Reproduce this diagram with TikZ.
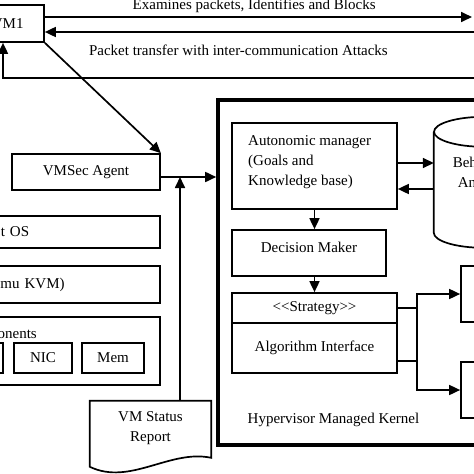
\documentclass[tikz,border=0pt]{standalone}
\usepackage{fontspec}
\setmainfont{Liberation Serif}
\usetikzlibrary{arrows.meta}

\begin{document}
\begin{tikzpicture}[
    x = 1pt, y = -1pt,
    every node/.style = {font = \fontsize{15}{20}\selectfont},
    box/.style = {draw, line width = 1.7pt, inner sep = 0pt},
    hyperbox/.style = {draw, line width = 3.6pt, inner sep = 0pt},
    conn/.style = {line width = 1.7pt},
    arr/.style = {line width = 1.7pt, -{Triangle[length = 11pt, width = 10pt]}},
    ]
    \useasboundingbox (0,0) rectangle (474,474);

    \node[box, minimum width = 72.6pt, minimum height = 37pt] (vmone) at (7.7,23.5) {VM1};
    \node[box, minimum width = 148pt, minimum height = 36pt] (agent) at (86,172) {VMSec Agent};
    \node[box, text width = 186pt, align = left, inner xsep = 4pt, minimum height = 32pt] (guest) at (63,232) {Guest OS};
    \node[box, text width = 178pt, align = left, inner xsep = 4pt, minimum height = 37pt] (qemu) at (67,284.5) {(Qemu KVM)};
    \node[box, minimum width = 275pt, minimum height = 68pt] (hw) at (22.5,351) {};
    \node[anchor = base east, inner sep = 0pt] (hwtext) at (37,338) {Hardware Components};
    \node[box, minimum width = 58pt, minimum height = 30pt] (cpu) at (-26,358) {};
    \node[box, minimum width = 58pt, minimum height = 30pt] (nic) at (43,358) {NIC};
    \node[box, minimum width = 62pt, minimum height = 30pt] (mem) at (113,358) {Mem};
    \node[minimum width = 121pt, minimum height = 55.2pt, align = center, inner sep = 0pt] (report) at (150.5,428.6) {VM Status\\Report};
    \draw[conn] (report.north west) -- (report.north east) -- ([yshift = -57pt]report.north east)
        .. controls (170,449) and (130,486) .. ([yshift = -66pt]report.north west) -- cycle;

    \node[hyperbox, minimum width = 272pt, minimum height = 345pt] (hyp) at (354,272.5) {};
    \node[anchor = base, inner sep = 0pt] (hyptext) at (333.5,423) {Hypervisor Managed Kernel};
    \node[box, minimum width = 165pt, minimum height = 86pt] (am) at (314.5,166) {};
    \node[anchor = north west, align = left, inner sep = 0pt] (amtext) at (248,135) {Autonomic manager\\(Goals and\\Knowledge base)};
    \node[minimum width = 100pt, minimum height = 84pt, align = center, inner sep = 0pt] (db) at (484,174) {Behaviour\\Analysis};
    \draw[conn] (db.north west) -- ([yshift = -101pt]db.north west)
        arc[start angle = 180, end angle = 360, x radius = 50pt, y radius = 15pt] -- (db.north east);
    \draw[conn] (db.north) ellipse [x radius = 50pt, y radius = 15pt];
    \node[box, minimum width = 154pt, minimum height = 46pt, text height = 10pt, text depth = 12pt] (dm) at (309,253) {Decision Maker};
    \node[box, minimum width = 165pt, minimum height = 30pt] (strathead) at (314.5,308) {{<}{<}Strategy{>}{>}};
    \node[box, minimum width = 165pt, minimum height = 50pt] (stratbody) at (314.5,348) {Algorithm Interface};
    \node[box, minimum width = 60pt, minimum height = 56pt] (outa) at (491,294) {};
    \node[box, minimum width = 60pt, minimum height = 56pt] (outb) at (491,390) {};

    \coordinate (vmtwoA) at (472,17);
    \coordinate (vmtwoB) at (475,32);
    \coordinate (vmtwoC) at (475,78);
    \coordinate (fork) at (417,340);
    \coordinate (agentout) at ([yshift = -5pt]agent.east);
    \coordinate (reportout) at ([xshift = 29.5pt]report.north);
    \coordinate (amout) at ([yshift = 3pt]am.east);
    \coordinate (amin) at ([yshift = -23pt]am.east);
    \coordinate (stratout) at ([yshift = -13pt]stratbody.east);

    \draw[arr] ([yshift = 6.5pt]vmone.east) -- (vmtwoA) node[pos = 0.49, above = 3.7pt, inner sep = 0pt] {Examines packets, Identifies and Blocks};
    \draw[arr] (vmtwoB) -- ([yshift = -8.5pt]vmone.east) node[pos = 0.55, below = 11.8pt, inner sep = 0pt] {Packet transfer with inter-communication Attacks};
    \draw[arr] (vmtwoC) -| ([xshift = -4.7pt]vmone.south);
    \draw[arr] (vmone.south east) -- (agent.north east);
    \draw[arr] (agentout) -- (agentout -| hyp.west);
    \draw[arr] (reportout) -- (reportout |- agentout);
    \draw[arr] (amout) -- (amout -| db.west);
    \draw[arr] (amin -| db.west) -- (amin);
    \draw[arr] (am.south) -- (am.south |- dm.north);
    \draw[arr] (strathead.north |- dm.south) -- (strathead.north);
    \draw[arr] (strathead.east) -- (strathead.east -| fork) |- (outa.west);
    \draw[arr] (strathead.east -| fork) |- (outb.west);
    \draw[conn] (stratout) -- (stratout -| fork);
\end{tikzpicture}
\end{document}
